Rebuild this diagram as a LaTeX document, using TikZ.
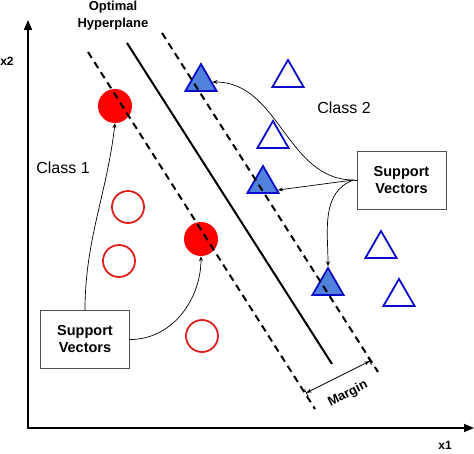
\documentclass[tikz,border=0pt]{standalone}
\usepackage{fontspec}
\setmainfont{Liberation Sans}
\usetikzlibrary{arrows.meta,shapes.geometric}
\definecolor{cred}{RGB}{255,0,0}
\definecolor{ored}{RGB}{225,30,30}
\definecolor{tfill}{RGB}{80,130,220}
\definecolor{tblue}{RGB}{10,10,200}
\definecolor{boxgray}{RGB}{80,80,80}
\begin{document}
\begin{tikzpicture}[x=1pt,y=1pt,
  fcirc/.style={circle,fill=cred,minimum size=34pt,inner sep=0pt},
  ocirc/.style={circle,draw=ored,line width=1.8pt,minimum size=32pt,inner sep=0pt},
  ftri/.style={regular polygon,regular polygon sides=3,draw=tblue,fill=tfill,line width=1.8pt,minimum size=36pt,inner sep=0pt},
  otri/.style={regular polygon,regular polygon sides=3,draw=tblue,line width=1.8pt,minimum size=36pt,inner sep=0pt},
  svbox/.style={draw=boxgray,line width=0.8pt,fill=white,align=center,font=\fontsize{14.5}{17}\selectfont\bfseries,minimum width=89pt,minimum height=58pt,inner sep=0pt},
  conn/.style={line width=0.7pt,-{Stealth[length=5pt,width=4pt]}},
  dashln/.style={line width=2pt,dash pattern=on 7pt off 5pt},
  axisln/.style={line width=1.8pt,-{Triangle[length=10pt,width=8pt]}},
  cls/.style={font=\fontsize{16}{19}\selectfont},
  lbl/.style={font=\fontsize{12}{14}\selectfont\bfseries}
]
\useasboundingbox (0,0) rectangle (474,453);
% axes
\coordinate (O) at (28,25);
\coordinate (Ytop) at (28,433);
\coordinate (Xend) at (474,25);
\draw[axisln] ([yshift=-1pt]O) -- (Ytop);
\draw[axisln] ([xshift=-1pt]O) -- (Xend);
\node[lbl] (x2) at (7,392) {x2};
\node[lbl] (x1) at (445,8) {x1};
\node[font=\fontsize{13}{17}\selectfont\bfseries,align=center] (oh) at (113,437) {Optimal\\Hyperplane};
\node[cls] (c1lbl) at (63,285) {Class 1};
\node[cls] (c2lbl) at (344,345) {Class 2};
% class 1
\node[fcirc] (C1) at (115,347) {};
\node[fcirc] (C2) at (201,214) {};
\node[ocirc] (D1) at (128,246) {};
\node[ocirc] (D2) at (119,192) {};
\node[ocirc] (D3) at (202,117) {};
% class 2
\node[ftri] (T1) at (201,371) {};
\node[ftri] (T2) at (263,269) {};
\node[ftri] (T3) at (328,167) {};
\node[otri] (U1) at (288,375) {};
\node[otri] (U2) at (273,314) {};
\node[otri] (U3) at (381,204) {};
\node[otri] (U4) at (399,156) {};
% hyperplane and margins
\coordinate (L1) at (88,401);
\coordinate (L2) at (315,44);
\coordinate (R1) at (162,420);
\coordinate (R2) at (378,81);
\coordinate (H1) at (127,410);
\coordinate (H2) at (332,89);
\draw[dashln] (L1) -- (L2);
\draw[dashln] (R1) -- (R2);
\draw[line width=2pt] (H1) -- (H2);
\coordinate (M1) at (306,60);
\coordinate (M2) at (370,92);
\draw[line width=0.7pt,{Bar[width=8pt]Stealth[length=5pt,width=4pt]}-{Stealth[length=5pt,width=4pt]Bar[width=8pt]}] (M1) -- (M2);
\node[rotate=27,font=\fontsize{13}{15}\selectfont\bfseries] (mg) at (348,59) {Margin};
% support vector boxes
\node[svbox] (SVR) at (401.5,273) {Support\\Vectors};
\node[svbox] (SVL) at (85,113.5) {Support\\Vectors};
\coordinate (F) at ([xshift=-3pt]SVR.west);
\draw[line width=0.7pt] (SVR.west) -- (F);
\draw[conn] (F) to[out=180,in=0] (T1);
\draw[conn] (F) -- (T2.-22);
\draw[conn] (F) to[out=200,in=90] (T3);
\draw[conn] (SVL.north) .. controls +(0,70) and +(-8,-70) .. (C1.south);
\draw[conn] (SVL.east) to[out=0,in=-90] (C2);
\end{tikzpicture}
\end{document}
